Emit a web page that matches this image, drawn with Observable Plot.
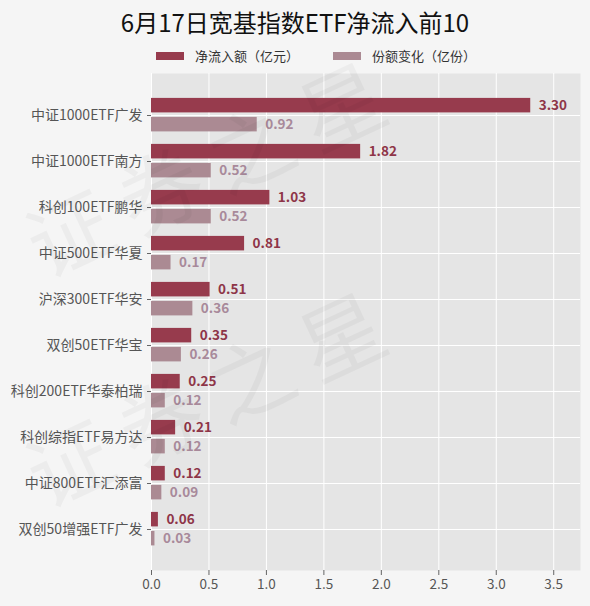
<!DOCTYPE html>
<html>
<head>
<meta charset="utf-8">
<script src="https://cdn.jsdelivr.net/npm/d3@7"></script>
<script src="https://cdn.jsdelivr.net/npm/@observablehq/plot@0.6"></script>
<style>
  html, body { margin: 0; padding: 0; background: #f5f5f5; }
  body { width: 590px; height: 606px; position: relative; overflow: hidden;
         font-family: "Noto Sans CJK SC", "Noto Sans", sans-serif; }
  #header { height: 66px; position: relative; }
  #title { position: absolute; left: 0; width: 590px; top: 5px; text-align: center;
           font-size: 24px; color: #111; line-height: 34px; }
  .lg { position: absolute; top: 47px; font-size: 13px; color: #333; line-height: 18px; }
  .sw { position: absolute; top: 52px; width: 28px; height: 8px; }
  #wm { position: absolute; left: 0; top: 0; pointer-events: none; }
</style>
</head>
<body>
<div id="header">
  <div id="title">6月17日宽基指数ETF净流入前10</div>
  <div class="sw" style="left:156px;background:#973b4d"></div>
  <div class="lg" style="left:195px">净流入额（亿元）</div>
  <div class="sw" style="left:333px;background:#ab8a93"></div>
  <div class="lg" style="left:372px">份额变化（亿份）</div>
</div>
<div id="chart"></div>
<svg id="wm" width="590" height="606"></svg>
<script>
const categories = ["中证1000ETF广发","中证1000ETF南方","科创100ETF鹏华","中证500ETF华夏","沪深300ETF华安","双创50ETF华宝","科创200ETF华泰柏瑞","科创综指ETF易方达","中证800ETF汇添富","双创50增强ETF广发"];
const netInflow = [3.30,1.82,1.03,0.81,0.51,0.35,0.25,0.21,0.12,0.06];
const shareChange = [0.92,0.52,0.52,0.17,0.36,0.26,0.12,0.12,0.09,0.03];
const xTicks = [0,0.5,1,1.5,2,2.5,3,3.5];
const seriesNames = ["净流入额（亿元）","份额变化（亿份）"];
const netColor = "#973b4d";
const shareColor = "#ab8a93";

const netRows = categories.map((c,i) => ({cat: c, v: netInflow[i]}));
const shareRows = categories.map((c,i) => ({cat: c, v: shareChange[i]}));

const chart = Plot.plot({
  width: 590,
  height: 540,
  marginTop: 7,
  marginBottom: 36,
  marginLeft: 151,
  marginRight: 10,
  style: {fontSize: "13px", fontFamily: "'Noto Sans CJK SC', sans-serif", background: "transparent", color: "#555"},
  x: {domain: [0, 3.733]},
  y: {domain: categories, paddingInner: 0, paddingOuter: 0.34},
  marks: [
    Plot.frame({fill: "#e5e5e5", stroke: null}),
    Plot.gridX(xTicks, {stroke: "white", strokeOpacity: 1, strokeWidth: 1}),
    Plot.gridY(categories, {stroke: "white", strokeOpacity: 1, strokeWidth: 1}),
    Plot.barX(netRows, {x: "v", y: "cat", fill: netColor, insetTop: 5.9, insetBottom: 25.6}),
    Plot.barX(shareRows, {x: "v", y: "cat", fill: shareColor, insetTop: 24.9, insetBottom: 6.6}),
    Plot.text(netRows, {x: "v", y: "cat", text: d => d.v.toFixed(2), dx: 8, dy: -10, textAnchor: "start", fill: "#8e3548", fontWeight: "bold", fontSize: 13.5}),
    Plot.text(shareRows, {x: "v", y: "cat", text: d => d.v.toFixed(2), dx: 8, dy: 9, textAnchor: "start", fill: "#a8899a", fontWeight: "bold", fontSize: 13.5}),
    Plot.axisX({ticks: xTicks, tickFormat: d3.format(".1f"), tickSize: 5, tickPadding: 4, stroke: "#666", fill: "#555", label: null, fontSize: 13.5}),
    Plot.axisY({tickSize: 4, tickPadding: 5, stroke: "#666", fill: "#555", label: null, fontSize: 14})
  ]
});
document.getElementById("chart").appendChild(chart);

// faint watermark
const wm = d3.select("#wm");
const wmText = "证券之星";
const spots = [[45, 280], [45, 510]];
spots.forEach(([x, y]) => {
  wm.append("text")
    .attr("transform", `translate(${x},${y}) rotate(-25)`)
    .attr("font-size", 84)
    .attr("letter-spacing", 16)
    .attr("fill", "#000")
    .attr("fill-opacity", 0.035)
    .attr("font-family", "'Noto Sans CJK SC', sans-serif")
    .text(wmText);
});
</script>
</body>
</html>
